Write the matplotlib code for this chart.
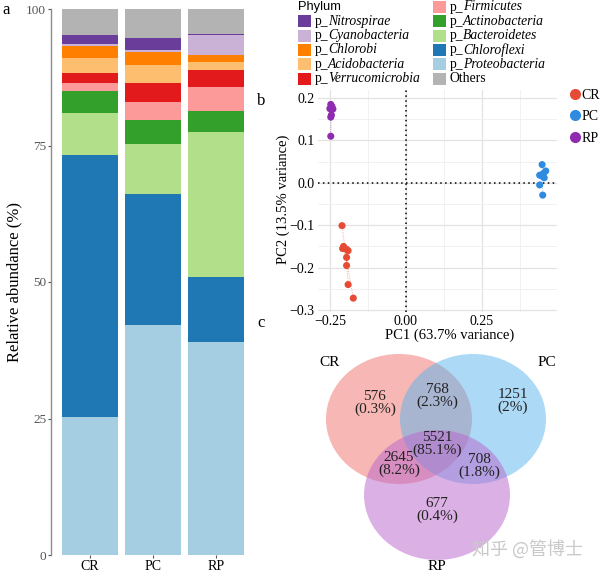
import numpy as np
import matplotlib
matplotlib.use("Agg")
import matplotlib.pyplot as plt
from matplotlib.patches import Ellipse, Rectangle
from matplotlib.lines import Line2D

plt.rcParams['font.family'] = ['Liberation Serif', 'DejaVu Serif']

# ---------------- data ----------------
samples = ["CR", "PC", "RP"]
# stacking order bottom -> top
phyla = ["Proteobacteria", "Chloroflexi", "Bacteroidetes", "Actinobacteria", "Firmicutes",
         "Verrucomicrobia", "Acidobacteria", "Chlorobi", "Cyanobacteria", "Nitrospirae", "Others"]
phylum_colors = ["#A6CEE3", "#1F78B4", "#B2DF8A", "#33A02C", "#FB9A99",
                 "#E31A1C", "#FDBF6F", "#FF7F00", "#CAB2D6", "#6A3D9A", "#B3B3B3"]
abund_CR = [25.2, 48.1, 7.7, 3.9, 1.6, 1.8, 2.8, 2.1, 0.3, 1.7, 4.8]
abund_PC = [42.2, 24.0, 9.1, 4.4, 3.3, 3.4, 3.4, 2.3, 0.3, 2.2, 5.4]
abund_RP = [39.0, 12.0, 26.4, 4.0, 4.4, 3.0, 1.5, 1.2, 3.8, 0.2, 4.5]
yticks_a = [0, 25, 50, 75, 100]
legend_order = ["Nitrospirae", "Cyanobacteria", "Chlorobi", "Acidobacteria", "Verrucomicrobia",
                "Firmicutes", "Actinobacteria", "Bacteroidetes", "Chloroflexi", "Proteobacteria", "Others"]

groups = ["CR", "PC", "RP"]
group_colors = ["#E64B35", "#2E8BE0", "#8E2BB0"]
pc1_CR = [-0.210, -0.205, -0.208, -0.195, -0.190, -0.195, -0.195, -0.190, -0.173]
pc2_CR = [-0.101, -0.150, -0.155, -0.157, -0.160, -0.176, -0.195, -0.240, -0.272]
pc1_PC = [0.448, 0.440, 0.460, 0.450, 0.455, 0.440, 0.450, 0.452]
pc2_PC = [0.043, 0.018, 0.028, 0.015, 0.012, -0.005, -0.029, 0.022]
pc1_RP = [-0.247, -0.243, -0.250, -0.240, -0.245, -0.247, -0.247]
pc2_RP = [0.185, 0.180, 0.175, 0.174, 0.160, 0.155, 0.110]
xticks_b = [-0.25, 0.0, 0.25]
xticklabels_b = ["\u22120.25", "0.00", "0.25"]
yticks_b = [-0.3, -0.2, -0.1, 0.0, 0.1, 0.2]
yticklabels_b = ["\u22120.3", "\u22120.2", "\u22120.1", "0.0", "0.1", "0.2"]

venn_counts = [576, 768, 1251, 5521, 2645, 708, 677]
venn_pcts = ["0.3%", "2.3%", "2%", "85.1%", "8.2%", "1.8%", "0.4%"]
venn_colors = ["#F0706A", "#5AB4EE", "#B865CC"]

# ---------------- figure ----------------
W, H = 600, 572
fig = plt.figure(figsize=(6, 5.72), dpi=100)

def fx(px):
    return px / W

def fy(py):
    return 1 - py / H

# ---- panel a ----
ax1 = fig.add_axes([fx(51), fy(555), fx(255 - 51), (555 - 9) / H])
x = np.arange(len(samples))
data = np.array([abund_CR, abund_PC, abund_RP]).T
bottom = np.zeros(len(samples))
for name, col, vals in zip(phyla, phylum_colors, data):
    ax1.bar(x, vals, bottom=bottom, width=0.89, color=col, linewidth=0)
    bottom += vals
ax1.set_xlim(-0.62, 2.62)
ax1.set_ylim(0, 100)
ax1.set_xticks(x)
ax1.set_xticklabels(samples, fontsize=10)
ax1.set_yticks(yticks_a)
ax1.set_yticklabels([str(v) for v in yticks_a], fontsize=9.5, color="#555555")
for s in ["top", "right", "bottom"]:
    ax1.spines[s].set_visible(False)
ax1.spines["left"].set_color("#8C8C8C")
ax1.spines["left"].set_linewidth(1.0)
ax1.tick_params(axis="both", direction="out", length=2, width=0.8, color="#555555", pad=1.5)
ax1.set_ylabel("Relative abundance (%)", fontsize=12)
ax1.yaxis.set_label_coords(-0.14, 0.5)

# legend for phyla (two columns, title occupies first slot of column 1)
fig.text(fx(298), fy(7), "Phylum", fontsize=9.3, family=["Liberation Sans", "DejaVu Sans"],
         va="center", ha="left")
for i, nm in enumerate(legend_order):
    slot = i + 1
    col_i, row_i = divmod(slot, 6)
    x0 = 298 + col_i * 135
    yc = 7 + row_i * 14.3
    c = phylum_colors[phyla.index(nm)]
    fig.patches.append(Rectangle((fx(x0), fy(yc + 6)), fx(12.5), 12 / H, facecolor=c,
                                 edgecolor="none", transform=fig.transFigure, figure=fig))
    if nm == "Others":
        fig.text(fx(x0 + 16.5), fy(yc), "Others", fontsize=9.8, va="center", ha="left")
    else:
        t1 = fig.text(fx(x0 + 16.5), fy(yc), "p_", fontsize=9.8, va="center", ha="left")
        fig.text(0, 0, nm, fontsize=9.8, style="italic", va="center", ha="left")
        fig.texts[-1].remove()
        ax1.annotate(nm, xy=(1, 0.5), xycoords=t1, va="center", ha="left",
                     fontsize=9.8, style="italic", annotation_clip=False)

# ---- panel b ----
ax2 = fig.add_axes([fx(318), fy(311.7), fx(557 - 318), (311.7 - 90) / H])
pcs = [(pc1_CR, pc2_CR), (pc1_PC, pc2_PC), (pc1_RP, pc2_RP)]
for g, col, (px_, py_) in zip(groups, group_colors, pcs):
    px_ = np.array(px_); py_ = np.array(py_)
    cx, cy = px_.mean(), py_.mean()
    for a, b in zip(px_, py_):
        ax2.plot([cx, a], [cy, b], ls=(0, (1, 1.2)), lw=0.7, color=col, alpha=0.45, zorder=2)
    ax2.scatter(px_, py_, s=26, color=col, edgecolor="none", zorder=3, label=g)
ax2.axvline(0, color="black", ls=(0, (1, 2.2)), lw=1.1, zorder=1)
ax2.axhline(0, color="black", ls=(0, (1, 2.2)), lw=1.1, zorder=1)
ax2.set_xlim(-0.289, 0.497)
ax2.set_ylim(-0.304, 0.219)
ax2.set_xticks(xticks_b)
ax2.set_xticklabels(xticklabels_b, fontsize=10)
ax2.set_yticks(yticks_b)
ax2.set_yticklabels(yticklabels_b, fontsize=10)
ax2.set_xticks([-0.125, 0.125, 0.375], minor=True)
ax2.set_yticks([-0.25, -0.15, -0.05, 0.05, 0.15], minor=True)
ax2.grid(True, which="major", color="#E3E3E3", lw=0.9)
ax2.grid(True, which="minor", color="#EFEFEF", lw=0.6)
ax2.set_axisbelow(True)
for s in ax2.spines.values():
    s.set_visible(False)
ax2.tick_params(axis="both", which="both", length=0, pad=2.5)
ax2.set_xlabel("PC1 (63.7% variance)", fontsize=10.5)
ax2.xaxis.set_label_coords(0.552, -0.075)
ax2.set_ylabel("PC2 (13.5% variance)", fontsize=10.5)
ax2.yaxis.set_label_coords(-0.118, 0.508)
leg_h = [Line2D([0], [0], marker="o", ls="none", markersize=8, markerfacecolor=c,
                markeredgecolor="none", label=g) for g, c in zip(groups, group_colors)]
fig.legend(handles=leg_h, loc="upper left", bbox_to_anchor=(fx(570), fy(89)), frameon=False,
           fontsize=10, handlelength=0.7, handletextpad=0.1, labelspacing=0.6,
           borderpad=0, borderaxespad=0)

# ---- panel c (Venn) ----
ax3 = fig.add_axes([fx(300), 0, fx(300), 242 / H])
ax3.set_xlim(300, 600)
ax3.set_ylim(572, 330)
ax3.axis("off")
centers = [(399, 419), (473, 419), (437, 495)]
for (cx, cy), col in zip(centers, venn_colors):
    ax3.add_patch(Ellipse((cx, cy), 146, 130, facecolor=col, alpha=0.5, edgecolor="none"))
label_pos = [(375, 403), (437, 396), (513, 401), (437, 444), (399, 464), (479, 466), (437, 510)]
for (lx, ly), n, p in zip(label_pos, venn_counts, venn_pcts):
    ax3.text(lx, ly, f"{n}\n({p})", ha="center", va="center", fontsize=11,
             color="#222222", linespacing=0.95)
set_label_pos = [(330, 362), (547, 362), (437, 566)]
for (lx, ly), g in zip(set_label_pos, groups):
    ax3.text(lx, ly, g, ha="center", va="center", fontsize=11)
ax3.text(528, 549, "知乎 @管博士", ha="center", va="center", fontsize=13, color="#C9C9C9",
         family=["Noto Sans CJK SC", "DejaVu Sans"])

# panel letters
fig.text(fx(2), fy(10), "a", fontsize=12, va="center")
fig.text(fx(257), fy(101), "b", fontsize=12, va="center")
fig.text(fx(257), fy(323), "c", fontsize=12, va="center")

fig.savefig("out.png", dpi=100)
